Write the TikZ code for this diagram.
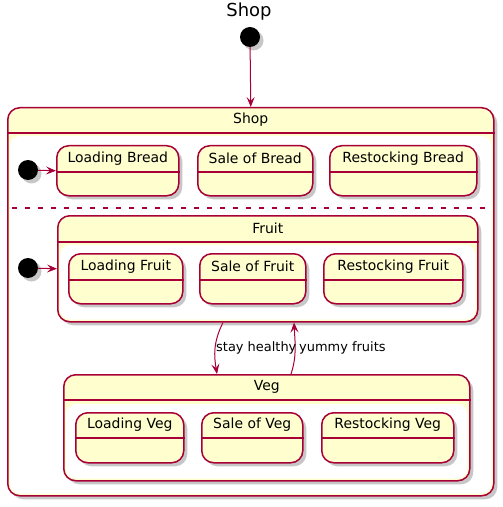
\documentclass[tikz,border=0pt]{standalone}
\usepackage{fontspec}
\setmainfont{DejaVu Sans}
\usetikzlibrary{arrows.meta,shadows}
\definecolor{umlborder}{HTML}{A80036}
\definecolor{umlfill}{HTML}{FEFECE}
\begin{document}
\begin{tikzpicture}[x=1bp,y=-1bp]
            \tikzstyle{shadowed}=[drop shadow={shadow xshift=3.5bp, shadow yshift=-3.5bp, fill=black, opacity=0.22}]
            \tikzstyle{state}=[draw=umlborder, fill=umlfill, line width=1.5bp, rounded corners=12bp, inner sep=0pt, anchor=north west, shadowed]
            \tikzstyle{init}=[circle, fill=black, minimum size=20bp, inner sep=0pt, shadowed]
            \tikzstyle{statename}=[font=\fontsize{14}{16}\selectfont, inner sep=0pt]
            \tikzstyle{headline}=[draw=umlborder, line width=1.5bp]
            \tikzstyle{arr}=[draw=umlborder, line width=1bp, -{Stealth[length=10bp, width=8bp, inset=4bp]}]
            \tikzstyle{linenode}=[font=\fontsize{13}{15}\selectfont, inner sep=0pt, anchor=west]
            \useasboundingbox (0,0) rectangle (503,507);
            \node[font=\fontsize{18}{20}\selectfont] (title) at (249,12) {Shop};
            \node[init] (i0) at (250,37) {};
            % outer state
            \node[state, minimum width=486bp, minimum height=388bp] (shop) at (7,107) {};
            \fill[white, rounded corners=10bp] ([shift={(3bp,-29bp)}]shop.north west) rectangle ([shift={(-3bp,3bp)}]shop.south east);
            \draw[headline] ([yshift=-26bp]shop.north west) -- ([yshift=-26bp]shop.north east);
            \node[statename] at ([yshift=-13bp]shop.north) {Shop};
            \draw[umlborder, line width=1.2bp, dash pattern=on 5bp off 8bp] (12,208) -- (489,208);
            % bread
            \node[init] (ib) at (28,170) {};
            \foreach \n/\x/\w/\t in {lb/56/122/Loading Bread, sb/197/115/Sale of Bread, rb/329/147/Restocking Bread} {
                \node[state, minimum width=\w bp, minimum height=50bp] (\n) at (\x,145) {};
                \draw[headline] ([yshift=-27bp]\n.north west) -- ([yshift=-27bp]\n.north east);
                \node[statename] at ([yshift=-13.5bp]\n.north) {\t};
            }
            % fruit
            \node[init] (if) at (28,268) {};
            \node[state, minimum width=420bp, minimum height=106bp] (fruit) at (57,215) {};
            \fill[white, rounded corners=10bp] ([shift={(3bp,-30bp)}]fruit.north west) rectangle ([shift={(-3bp,3bp)}]fruit.south east);
            \draw[headline] ([yshift=-27bp]fruit.north west) -- ([yshift=-27bp]fruit.north east);
            \node[statename] at ([yshift=-13.5bp]fruit.north) {Fruit};
            \foreach \n/\x/\w/\t in {lf/68/114/Loading Fruit, sf/199/106/Sale of Fruit, rf/323/139/Restocking Fruit} {
                \node[state, minimum width=\w bp, minimum height=50bp] (\n) at (\x,253) {};
                \draw[headline] ([yshift=-27bp]\n.north west) -- ([yshift=-27bp]\n.north east);
                \node[statename] at ([yshift=-13.5bp]\n.north) {\t};
            }
            % veg
            \node[state, minimum width=406bp, minimum height=106bp] (veg) at (63,374) {};
            \fill[white, rounded corners=10bp] ([shift={(3bp,-30bp)}]veg.north west) rectangle ([shift={(-3bp,3bp)}]veg.south east);
            \draw[headline] ([yshift=-26bp]veg.north west) -- ([yshift=-26bp]veg.north east);
            \node[statename] at ([yshift=-13bp]veg.north) {Veg};
            \foreach \n/\x/\w/\t in {lv/75/108/Loading Veg, sv/201/101/Sale of Veg, rv/321/132/Restocking Veg} {
                \node[state, minimum width=\w bp, minimum height=50bp] (\n) at (\x,412) {};
                \draw[headline] ([yshift=-26bp]\n.north west) -- ([yshift=-26bp]\n.north east);
                \node[statename] at ([yshift=-13bp]\n.north) {\t};
            }
            % transitions
            \path[arr] (i0) -- (shop.north);
            \path[arr] (ib) -- (lb.west);
            \path[arr] (if) -- (fruit.west);
            \path[arr] ([xshift=166bp]fruit.south west) .. controls +(-10bp,-20bp) and +(-3bp,18bp) .. ([xshift=154bp]veg.north west);
            \path[arr] ([xshift=228bp]veg.north west) .. controls +(6bp,18bp) and +(1bp,-20bp) .. ([xshift=237bp]fruit.south west);
            \node[linenode] (l1) at (216,348) {stay healthy};
            \node[linenode] (l2) at (299,348) {yummy fruits};
\end{tikzpicture}
\end{document}
